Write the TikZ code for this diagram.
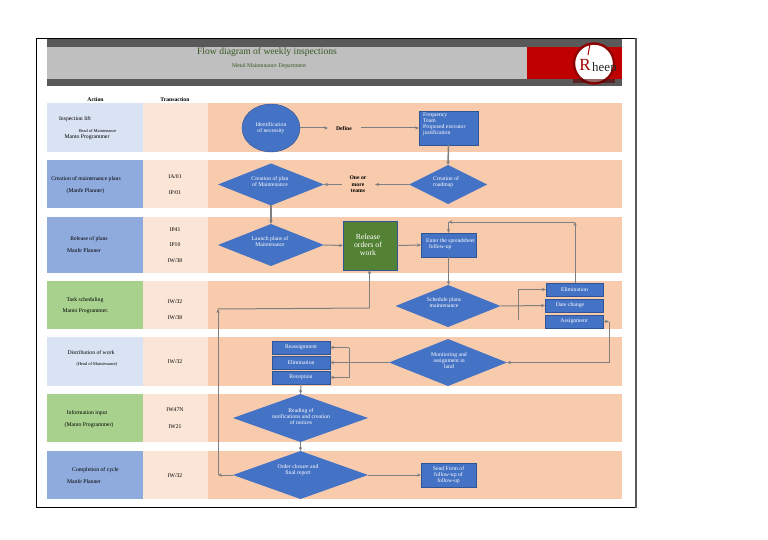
\documentclass[tikz,border=0pt]{standalone}
\usepackage{fontspec}
\setmainfont{Liberation Serif}
\usetikzlibrary{shapes.geometric,arrows.meta}
\definecolor{bandc}{HTML}{F8CBAD}
\definecolor{transc}{HTML}{FBE5D6}
\definecolor{lblue}{HTML}{DAE3F3}
\definecolor{mblue}{HTML}{8FAADC}
\definecolor{lgreen}{HTML}{A9D18E}
\definecolor{boxblue}{HTML}{4472C4}
\definecolor{boxedge}{HTML}{2F5597}
\definecolor{dgreen}{HTML}{548235}
\definecolor{titlec}{HTML}{385723}
\definecolor{wirec}{HTML}{7F7F7F}
\definecolor{darkbar}{HTML}{595959}
\definecolor{graybar}{HTML}{BFBFBF}
\definecolor{redbar}{HTML}{C00000}
\tikzset{
  x=1pt,y=-1pt,
  lab/.style={font=\fontsize{5.7}{6.2}\selectfont,text=black,inner sep=0pt,align=center,yshift=-.7pt},
  smalllab/.style={font=\fontsize{4.4}{5}\selectfont,text=black,inner sep=0pt,align=center,yshift=-.7pt},
  boldlab/.style={font=\fontsize{5.7}{6.4}\selectfont\bfseries,text=black,inner sep=0pt,align=center,yshift=-.5pt},
  wtext/.style={font=\fontsize{5.7}{6}\selectfont,text=white,align=center,inner sep=0pt},
  wleft/.style={wtext,align=left},
  rbox/.style={rectangle,fill=boxblue,draw=boxedge,line width=.7pt,minimum width=#1,inner sep=0pt,outer sep=0pt,wtext},
  wire/.style={draw=wirec,line width=1pt,-{Stealth[length=4pt,width=3.4pt]}},
  thickwire/.style={wire,line width=1.5pt},
  plainwire/.style={draw=wirec,line width=1pt}
}
\newcommand{\diamondnode}[5]{% name, cx, cy, halfw, halfh
  \path[fill=boxblue] (#2-#4,#3) -- (#2,#3-#5) -- (#2+#4,#3) -- (#2,#3+#5) -- cycle;
  \coordinate (#1W) at (#2-#4,#3);
  \coordinate (#1E) at (#2+#4,#3);
  \coordinate (#1N) at (#2,#3-#5);
  \coordinate (#1S) at (#2,#3+#5);
}
\begin{document}
\begin{tikzpicture}
\useasboundingbox (0,0) rectangle (768,540);
\fill[white] (0,0) rectangle (768,540);
% header
\fill[darkbar] (47,39) rectangle (622,86);
\fill[graybar] (47,47) rectangle (527,79);
\fill[redbar] (527,47) rectangle (622,79);
% frame
\draw[black,line width=.9pt] (636,38.5) -- (36.5,38.5) -- (36.5,507) -- (636,507);
\draw[wirec!70!black,line width=1.4pt] (636,38) -- (636,507.5);
% rows
\foreach \ya/\yb/\acol in {103/152/lblue,160/208/mblue,217/273/mblue,281/329/lgreen,337/386/lblue,394/442/lgreen,451/499/mblue}{
  \fill[\acol] (47,\ya) rectangle (143,\yb);
  \fill[transc] (143,\ya) rectangle (208,\yb);
  \fill[bandc] (208,\ya) rectangle (622,\yb);
}
% titles
\node[font=\fontsize{9.6}{11}\selectfont,text=titlec,inner sep=0pt] (title) at (267,52) {Flow diagram of weekly inspections};
\node[font=\fontsize{5.8}{7}\selectfont,text=titlec,inner sep=0pt] (subtitle) at (269,66) {Metal Maintenance Department};
% logo
\draw[redbar!75!black,fill=white,line width=2.4pt] (594,63.5) circle (20);
\fill[black!65!red,opacity=.6] (573,79) rectangle (615,83);
\node[font=\fontsize{13}{14}\selectfont,text=black!85,inner sep=0pt,anchor=west] (logo) at (592,67) {heen};
\node[font=\fontsize{17}{18}\selectfont,text=redbar!85!black,inner sep=0pt] (logoR) at (585,65) {R};
\draw[redbar!85!black,line width=1pt] (590,44) -- (588,55);
% headings
\node[boldlab] (hA) at (95.5,99) {Action};
\node[boldlab] (hT) at (175,99) {Transaction};
% action labels
\node[lab] (a1) at (75,118.5) {Inspection lift};
\node[smalllab] (a1b) at (97.5,130) {Head of Maintenance};
\node[lab] (a1c) at (87,136.5) {Manto Programmer};
\node[lab] (a2) at (86,178) {Creation of maintenance plans};
\node[lab] (a2b) at (85.5,190) {(Manfe Planner)};
\node[lab] (a3) at (89,238) {Release of plans};
\node[lab] (a3b) at (84,250) {Manfe Planner};
\node[lab] (a4) at (85,299) {Task scheduling};
\node[lab] (a4b) at (85.5,311) {Manto Programmer.};
\node[lab] (a5) at (91,352) {Distribution of work};
\node[smalllab] (a5b) at (97,364) {(Head of Maintenance)};
\node[lab] (a6) at (87,412.5) {Information input};
\node[lab] (a6b) at (89,424) {(Manto Programmer)};
\node[lab] (a7) at (95.5,469) {Completion of cycle};
\node[lab] (a7b) at (84,481) {Manfe Planner};
% transactions
\node[lab] (t1) at (175,176) {IA/01};
\node[lab] (t2) at (175,191.5) {IP/01};
\node[lab] (t3) at (175,229) {IP41};
\node[lab] (t4) at (175,244) {IP10};
\node[lab] (t5) at (175,260) {IW/38};
\node[lab] (t6) at (175,301) {IW/32};
\node[lab] (t7) at (175,317) {IW/38};
\node[lab] (t8) at (175,361) {IW/32};
\node[lab] (t9) at (175,409) {IW47N};
\node[lab] (t10) at (175,426) {IW21};
\node[lab] (t11) at (175,475) {IW/32};
% shapes
\node[ellipse,fill=boxblue,draw=boxedge,line width=.4pt,minimum width=58,minimum height=48,inner sep=0pt,outer sep=0pt,wtext] (need) at (271,128) {Identification\\of necessity};
\node[boldlab] (define) at (344,128) {Define};
\node[rbox=59,minimum height=34] (freq) at (448.5,128) {};
\node[wleft,anchor=north west] (freqt) at (423,113) {Frequency\\Team\\Proposed executor\\justification};
\diamondnode{road}{448}{184.5}{39}{19.5}
\node[wleft,anchor=west] (roadt) at (433,182) {Creation of\\roadmap};
\node[boldlab] (teams) at (358,184) {One or\\more\\teams};
\diamondnode{plan}{271}{184.5}{53}{21}
\node[wtext] (plant) at (270,182) {Creation of plan\\of Maintenance};
\diamondnode{launch}{271}{245}{53}{21}
\node[wtext] (launcht) at (270,242) {Launch plans of\\Maintenance};
\node[rectangle,fill=dgreen,draw=boxedge,line width=.7pt,minimum width=54,minimum height=49,inner sep=0pt,outer sep=0pt] (orders) at (370,245.5) {};
\node[font=\fontsize{7.8}{7.8}\selectfont,text=white,align=center,inner sep=0pt] (orderst) at (368,245) {Release\\orders of\\work};
\node[rbox=55,minimum height=24] (enter) at (448.5,245) {};
\node[wleft,anchor=west] (entert) at (426,244.5) {Enter the spreadsheet\\\ \ follow-up};
\diamondnode{sched}{448}{306}{52.5}{21}
\node[wtext] (schedt) at (444,303) {Schedule plans\\maintenance};
\node[rbox=57,minimum height=13] (elim) at (574.5,289.5) {Elimination};
\node[rbox=58,minimum height=13] (date) at (574,305.5) {\hspace*{-8pt}Date change};
\node[rbox=58,minimum height=13] (assign) at (574,321.5) {Assignment};
\diamondnode{monit}{448}{362.5}{59}{23.5}
\node[wtext] (monitt) at (449,361) {Monitoring and\\assignment in\\land};
\node[rbox=58,minimum height=13] (reas) at (301,347.5) {Reassignment};
\node[rbox=58,minimum height=13] (elim2) at (301,362.5) {Elimination};
\node[rbox=58,minimum height=13] (recep) at (301,377.5) {Reception};
\diamondnode{read}{300.5}{418}{67.5}{24}
\node[wtext] (readt) at (301,417) {Reading of\\notifications and creation\\of notices};
\diamondnode{close}{300.5}{475}{67.5}{24}
\node[wtext] (closet) at (298,470.5) {Order closure and\\final report};
\node[rbox=55,minimum height=24] (send) at (448.5,475) {Send Form of\\follow-up of\\follow-up};
% connectors
\draw[wire] (need.east) -- (328,128);
\draw[wire] (361,128) -- (freq.west);
\draw[thickwire] (freq.south) -- (roadN);
\draw[wire] (roadW) -- (375,184.5);
\draw[wire] (342,184.5) -- (planE);
\draw[thickwire] (planS) -- (launchN);
\draw[wire] (launchE) -- (orders.west);
\draw[wire] (orders.east) -- (enter.west);
\draw[thickwire] (enter.south) -- (enter.south|-schedN);
\coordinate (loopA) at (575,222);
\coordinate (loopB) at (448.5,222);
\draw[wire] (elim.north-|loopA) -- (loopA);
\draw[wire] (loopA) -- (loopB);
\draw[wire] (loopB) -- (enter.north);
\draw[wire] (schedE) -- (date.west);
\coordinate (brA) at (518,320);
\coordinate (brB) at (518,289.5);
\draw[plainwire] (brA) -- (brB);
\draw[wire] (brB) -- (elim.west);
\coordinate (asA) at (609,321.5);
\coordinate (asB) at (609,362.5);
\draw[wire] (assign.east) -- (asA);
\draw[plainwire] (asA) -- (asB);
\draw[wire] (asB) -- (monitE);
\draw[wire] (monitW) -- (elim2.east);
\coordinate (bkA) at (349,347.5);
\coordinate (bkB) at (349,377.5);
\draw[plainwire] (bkA) -- (bkB);
\draw[wire] (bkA) -- (reas.east);
\draw[wire] (bkB) -- (recep.east);
\draw[wire] (recep.south) -- (readN);
\draw[wire] (readS) -- (closeN);
\draw[wire] (closeE) -- (send.west);
\coordinate (rtA) at (218,475);
\coordinate (rtB) at (218,309);
\coordinate (rtC) at (369.5,308);
\draw[wire] (closeW) -- (rtA);
\draw[wire] (rtA) -- (rtB);
\draw[plainwire] (rtB) -- (rtC);
\draw[wire,line width=1.2pt] (rtC) -- (rtC|-orders.south);
\end{tikzpicture}
\end{document}
